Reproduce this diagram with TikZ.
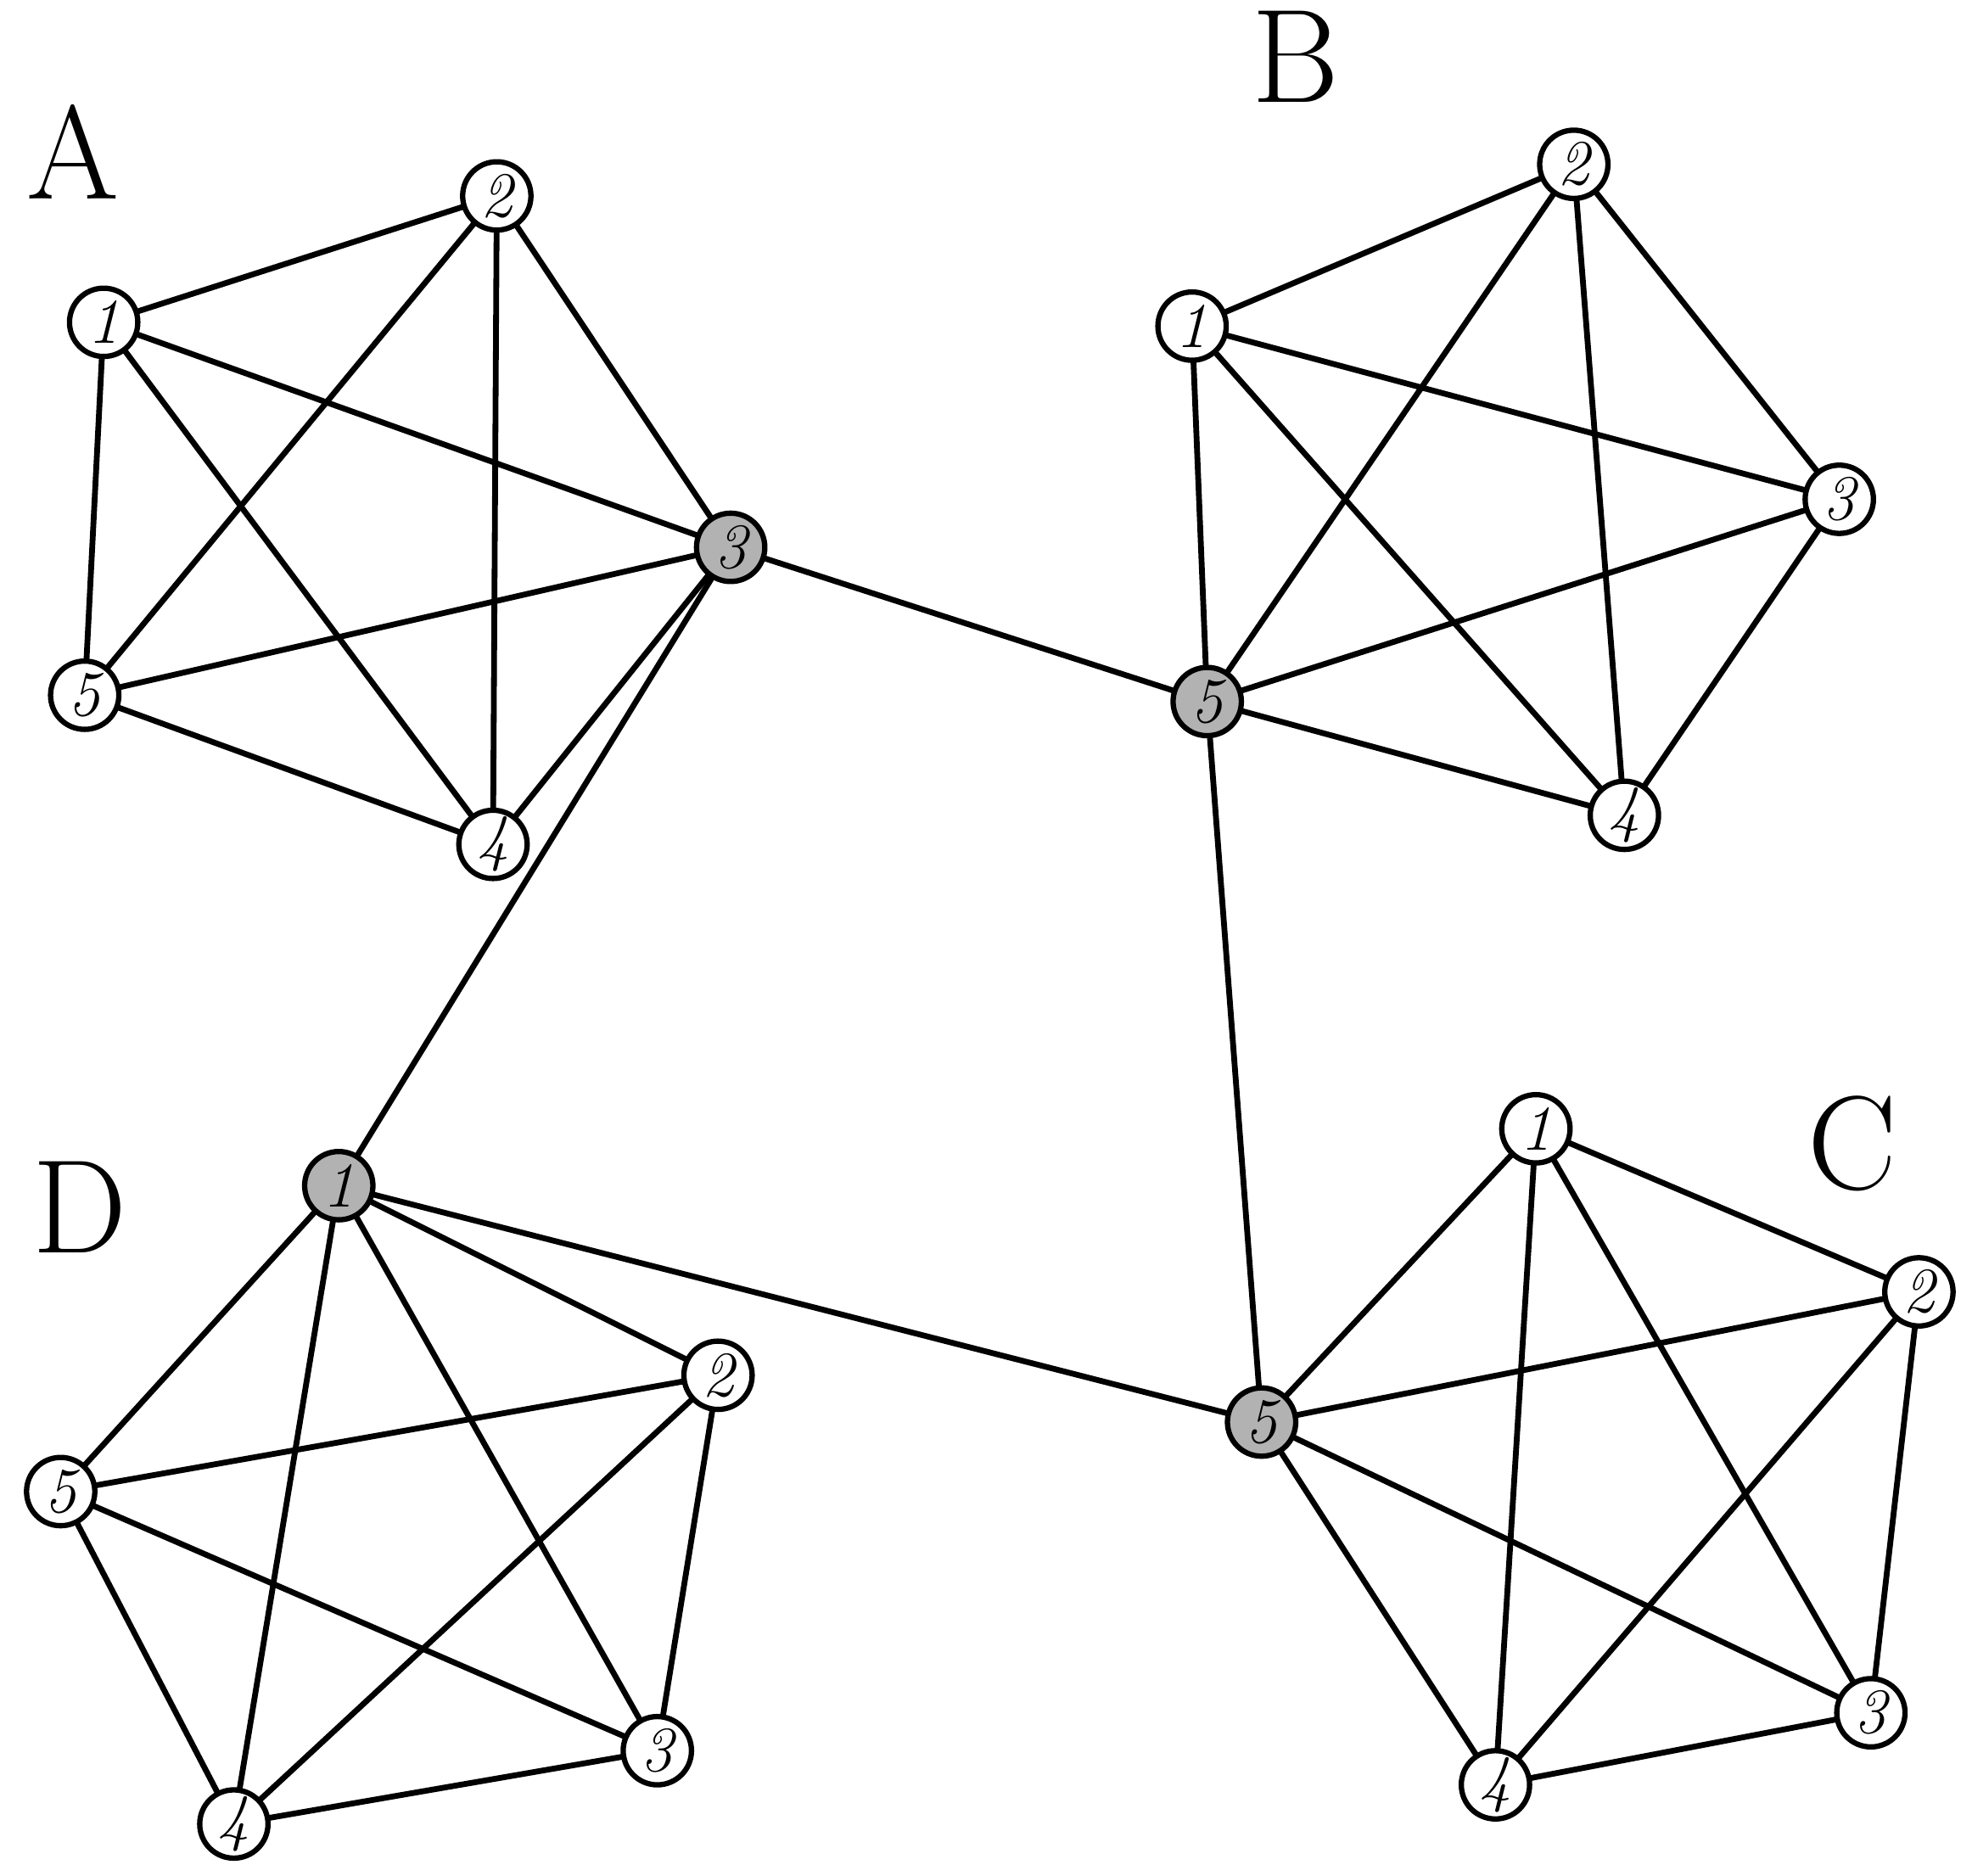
\documentclass[tikz,border=0pt]{standalone}
\begin{document}
\begin{tikzpicture}[x=0.01cm,y=-0.01cm,
 v/.style={circle,draw,line width=1.2pt,minimum size=0.54cm,inner sep=0pt,font=\Large\itshape,fill=white},
 g/.style={v,fill=gray!60},
 lab/.style={font=\fontsize{30}{30}\selectfont},
 e/.style={line width=1.3pt}]
\useasboundingbox (0,0) rectangle (1560,1484);
\node[lab] (LA) at (58,120) {A};
\node[lab] (LB) at (1025,45) {B};
\node[lab] (LC) at (1465,905) {C};
\node[lab] (LD) at (63,955) {D};
\foreach \n/\x/\y in {A1/82/255,A2/393/155,A3/578/433,A4/390/668,A5/67/550,
 B1/943/258,B2/1245/130,B3/1455/395,B4/1285/645,B5/955/555,
 C1/1215/893,C2/1518/1022,C3/1480/1355,C4/1183/1412,C5/998/1125,
 D1/268/938,D2/568/1088,D3/520/1385,D4/185/1443,D5/48/1180}
 {\coordinate (p\n) at (\x,\y);}
\foreach \c in {A,B,C,D}{
 \foreach \i/\j in {1/2,1/3,1/4,1/5,2/3,2/4,2/5,3/4,3/5,4/5}
  \draw[e] (p\c\i) -- (p\c\j);}
\draw[e] (pA3) -- (pB5);
\draw[e] (pA3) -- (pD1);
\draw[e] (pB5) -- (pC5);
\draw[e] (pD1) -- (pC5);
\foreach \c/\k/\s in {A/1/v,A/2/v,A/3/g,A/4/v,A/5/v,B/1/v,B/2/v,B/3/v,B/4/v,B/5/g,C/1/v,C/2/v,C/3/v,C/4/v,C/5/g,D/1/g,D/2/v,D/3/v,D/4/v,D/5/v}{
 \node[\s] (\c\k) at (p\c\k) {\k};}
\end{tikzpicture}
\end{document}
